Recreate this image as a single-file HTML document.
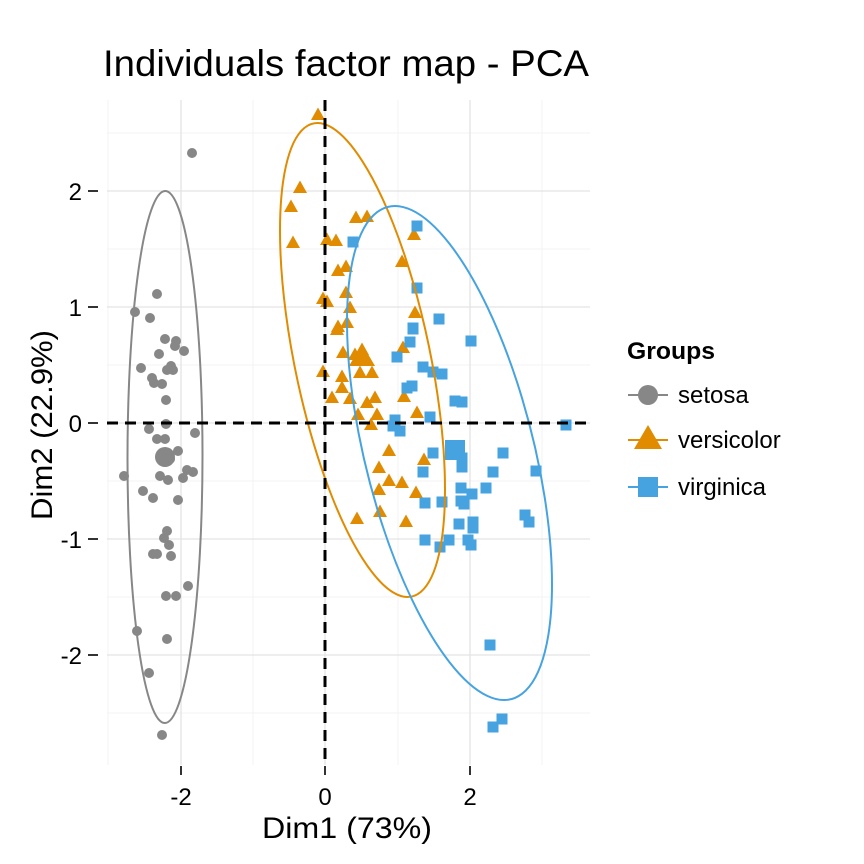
<!DOCTYPE html>
<html><head><meta charset="utf-8"><style>body{margin:0;background:#fff}svg{display:block}text{font-family:"Liberation Sans",sans-serif}</style></head><body>
<svg width="864" height="864" viewBox="0 0 864 864" xmlns="http://www.w3.org/2000/svg">
<g stroke="#f3f3f3" stroke-width="1">
<line x1="108" y1="100" x2="108" y2="765"/><line x1="253" y1="100" x2="253" y2="765"/><line x1="398" y1="100" x2="398" y2="765"/><line x1="542" y1="100" x2="542" y2="765"/>
<line x1="107" y1="133" x2="590" y2="133"/><line x1="107" y1="249" x2="590" y2="249"/><line x1="107" y1="365" x2="590" y2="365"/><line x1="107" y1="481" x2="590" y2="481"/><line x1="107" y1="597" x2="590" y2="597"/><line x1="107" y1="713" x2="590" y2="713"/>
</g>
<g stroke="#e3e3e3" stroke-width="1.3">
<line x1="181" y1="100" x2="181" y2="765"/><line x1="325" y1="100" x2="325" y2="765"/><line x1="470" y1="100" x2="470" y2="765"/>
<line x1="107" y1="191" x2="590" y2="191"/><line x1="107" y1="307" x2="590" y2="307"/><line x1="107" y1="423" x2="590" y2="423"/><line x1="107" y1="539" x2="590" y2="539"/><line x1="107" y1="655" x2="590" y2="655"/>
</g>
<g fill="#878787">
<circle cx="192" cy="153" r="5"/><circle cx="157" cy="294" r="5"/><circle cx="135" cy="312" r="5"/><circle cx="150" cy="318" r="5"/><circle cx="165" cy="339" r="5"/><circle cx="176" cy="341" r="5"/><circle cx="175" cy="346" r="5"/><circle cx="184" cy="351" r="5"/><circle cx="159" cy="354" r="5"/><circle cx="141" cy="368" r="5"/><circle cx="171" cy="366" r="5"/><circle cx="173" cy="370" r="5"/><circle cx="167" cy="370" r="5"/><circle cx="152" cy="378" r="5"/><circle cx="154" cy="383" r="5"/><circle cx="162" cy="384" r="5"/><circle cx="166" cy="400" r="5"/><circle cx="166" cy="424" r="5"/><circle cx="149" cy="429" r="5"/><circle cx="195" cy="433" r="5"/><circle cx="157" cy="439" r="5"/><circle cx="165" cy="439" r="5"/><circle cx="178" cy="451" r="5"/><circle cx="165" cy="455" r="5"/><circle cx="163" cy="459" r="5"/><circle cx="170" cy="459" r="5"/><circle cx="187" cy="470" r="5"/><circle cx="193" cy="472" r="5"/><circle cx="160" cy="476" r="5"/><circle cx="168" cy="480" r="5"/><circle cx="183" cy="478" r="5"/><circle cx="124" cy="476" r="5"/><circle cx="143" cy="491" r="5"/><circle cx="153" cy="498" r="5"/><circle cx="178" cy="500" r="5"/><circle cx="167" cy="531" r="5"/><circle cx="164" cy="538" r="5"/><circle cx="169" cy="545" r="5"/><circle cx="153" cy="554" r="5"/><circle cx="157" cy="554" r="5"/><circle cx="171" cy="556" r="5"/><circle cx="188" cy="586" r="5"/><circle cx="166" cy="596" r="5"/><circle cx="176" cy="596" r="5"/><circle cx="137" cy="631" r="5"/><circle cx="167" cy="639" r="5"/><circle cx="149" cy="673" r="5"/><circle cx="162" cy="735" r="5"/>
<circle cx="165" cy="457" r="10"/>
</g>
<defs><path id="t" d="M0,-7.5 L7,5 L-7,5 Z" fill="#e08b00"/><rect id="s" x="-5.5" y="-5.5" width="11" height="11" fill="#46a3e0"/></defs>
<g>
<use href="#t" x="318" y="115"/><use href="#t" x="300" y="188"/><use href="#t" x="291" y="207"/><use href="#t" x="293" y="243"/><use href="#t" x="356" y="218"/><use href="#t" x="367" y="217"/><use href="#t" x="327" y="240"/><use href="#t" x="336" y="241"/><use href="#t" x="414" y="235"/><use href="#t" x="402" y="262"/><use href="#t" x="338" y="271"/><use href="#t" x="346" y="267"/><use href="#t" x="346" y="293"/><use href="#t" x="323" y="299"/><use href="#t" x="327" y="302"/><use href="#t" x="350" y="308"/><use href="#t" x="415" y="313"/><use href="#t" x="338" y="327"/><use href="#t" x="347" y="323"/>
<use href="#t" x="337" y="330"/><use href="#t" x="343" y="353"/><use href="#t" x="362" y="350"/><use href="#t" x="363" y="357"/><use href="#t" x="355" y="355"/><use href="#t" x="367" y="360"/><use href="#t" x="403" y="348"/><use href="#t" x="323" y="372"/><use href="#t" x="360" y="373"/><use href="#t" x="372" y="373"/><use href="#t" x="342" y="377"/><use href="#t" x="342" y="388"/><use href="#t" x="332" y="398"/><use href="#t" x="350" y="399"/><use href="#t" x="375" y="398"/><use href="#t" x="367" y="403"/><use href="#t" x="377" y="415"/><use href="#t" x="358" y="415"/><use href="#t" x="404" y="397"/><use href="#t" x="417" y="413"/><use href="#t" x="371" y="425"/><use href="#t" x="389" y="451"/><use href="#t" x="424" y="460"/><use href="#t" x="379" y="468"/><use href="#t" x="389" y="481"/><use href="#t" x="402" y="483"/><use href="#t" x="379" y="490"/><use href="#t" x="416" y="493"/><use href="#t" x="380" y="512"/><use href="#t" x="357" y="519"/><use href="#t" x="406" y="522"/>
<path d="M362,344 L375,366 L349,366 Z" fill="#e08b00"/>
</g>
<g>
<use href="#s" x="417" y="226"/><use href="#s" x="417" y="288"/><use href="#s" x="439" y="319"/><use href="#s" x="413" y="328"/><use href="#s" x="353" y="242"/>
<use href="#s" x="413" y="329"/><use href="#s" x="410" y="342"/><use href="#s" x="397" y="357"/><use href="#s" x="471" y="341"/><use href="#s" x="423" y="367"/><use href="#s" x="433" y="372"/><use href="#s" x="442" y="374"/><use href="#s" x="407" y="388"/><use href="#s" x="412" y="386"/><use href="#s" x="455" y="401"/><use href="#s" x="462" y="402"/><use href="#s" x="430" y="417"/><use href="#s" x="395" y="420"/><use href="#s" x="393" y="426"/><use href="#s" x="400" y="431"/><use href="#s" x="566" y="425"/><use href="#s" x="433" y="453"/><use href="#s" x="452" y="450"/><use href="#s" x="462" y="458"/><use href="#s" x="457" y="452"/><use href="#s" x="503" y="453"/><use href="#s" x="462" y="467"/><use href="#s" x="423" y="472"/><use href="#s" x="493" y="472"/><use href="#s" x="536" y="471"/><use href="#s" x="461" y="488"/><use href="#s" x="472" y="494"/><use href="#s" x="486" y="488"/><use href="#s" x="425" y="503"/><use href="#s" x="442" y="502"/><use href="#s" x="461" y="501"/><use href="#s" x="464" y="504"/><use href="#s" x="525" y="515"/><use href="#s" x="529" y="522"/><use href="#s" x="459" y="524"/><use href="#s" x="473" y="522"/><use href="#s" x="473" y="528"/><use href="#s" x="425" y="540"/><use href="#s" x="449" y="540"/><use href="#s" x="468" y="540"/><use href="#s" x="471" y="545"/><use href="#s" x="440" y="547"/><use href="#s" x="490" y="645"/><use href="#s" x="493" y="727"/><use href="#s" x="502" y="719"/>
<rect x="445" y="440" width="20" height="20" fill="#46a3e0"/>
</g>
<g fill="none" stroke-width="2">
<circle r="1" stroke="#878787" vector-effect="non-scaling-stroke" transform="matrix(37.5,-1.5,0,266,165,457)"/>
<circle r="1" stroke="#e08b00" vector-effect="non-scaling-stroke" transform="matrix(82.5,129.3,0,198.6,362.5,360)"/>
<circle r="1" stroke="#46a3e0" vector-effect="non-scaling-stroke" transform="matrix(102.5,131.3,0,209.2,449.5,453)"/>
</g>
<g stroke="#000" stroke-width="3" stroke-dasharray="11,7">
<line x1="325" y1="100" x2="325" y2="765"/><line x1="107" y1="423" x2="590" y2="423"/>
</g>
<g stroke="#333" stroke-width="2">
<line x1="181" y1="766" x2="181" y2="775"/><line x1="325" y1="766" x2="325" y2="775"/><line x1="470" y1="766" x2="470" y2="775"/>
<line x1="88" y1="191" x2="98" y2="191"/><line x1="88" y1="307" x2="98" y2="307"/><line x1="88" y1="423" x2="98" y2="423"/><line x1="88" y1="539" x2="98" y2="539"/><line x1="88" y1="655" x2="98" y2="655"/>
</g>
<g font-size="24" fill="#000">
<text x="181" y="805" text-anchor="middle">-2</text><text x="325" y="805" text-anchor="middle">0</text><text x="470" y="805" text-anchor="middle">2</text>
<text x="82" y="200" text-anchor="end">2</text><text x="82" y="316" text-anchor="end">1</text><text x="82" y="432" text-anchor="end">0</text><text x="82" y="548" text-anchor="end">-1</text><text x="82" y="664" text-anchor="end">-2</text>
</g>
<text x="103" y="76" font-size="37" textLength="486" lengthAdjust="spacingAndGlyphs">Individuals factor map - PCA</text>
<text x="262" y="838" font-size="30" textLength="170" lengthAdjust="spacingAndGlyphs">Dim1 (73%)</text>
<text transform="translate(52,520) rotate(-90)" font-size="30" textLength="190" lengthAdjust="spacingAndGlyphs">Dim2 (22.9%)</text>
<text x="627" y="359" font-size="24" font-weight="bold" textLength="88" lengthAdjust="spacingAndGlyphs">Groups</text>
<line x1="628" y1="395" x2="668" y2="395" stroke="#878787" stroke-width="2"/><circle cx="648" cy="395" r="10" fill="#878787"/>
<line x1="628" y1="440" x2="668" y2="440" stroke="#e08b00" stroke-width="2"/><path d="M648,425 L662,449 L634,449 Z" fill="#e08b00"/>
<line x1="628" y1="487" x2="668" y2="487" stroke="#46a3e0" stroke-width="2"/><rect x="638" y="477" width="20" height="20" fill="#46a3e0"/>
<g font-size="24"><text x="678" y="403">setosa</text><text x="678" y="448">versicolor</text><text x="678" y="495">virginica</text></g>
</svg>
</body></html>
